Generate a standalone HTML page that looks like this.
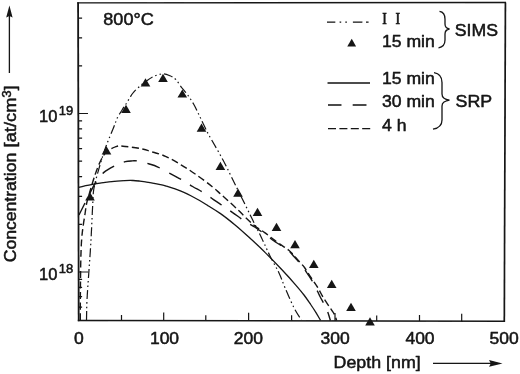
<!DOCTYPE html>
<html lang="en"><head><meta charset="utf-8"><title>Concentration vs Depth, 800°C</title>
<style>html,body{margin:0;padding:0;background:#fff}body{width:520px;height:374px;overflow:hidden}svg{display:block}</style></head>
<body>
<svg width="520" height="374" viewBox="0 0 520 374">
<defs><filter id="soft" x="0" y="0" width="520" height="374" filterUnits="userSpaceOnUse"><feGaussianBlur stdDeviation="0.3"/></filter></defs>
<rect width="520" height="374" fill="#fff"/>
<g filter="url(#soft)">
<g fill="none" stroke="#141414" stroke-linecap="butt">
<path d="M78.1 2.2L78.7 321.2" stroke-width="1.8"/>
<path d="M77.8 320.4L505 321.3" stroke-width="1.5"/>
<path d="M77.3 2.9L506 2.5" stroke-width="1.3"/>
<path d="M505.4 2.5L504.3 321.9" stroke-width="1.7"/>
<path d="M78.5 307.2h3.6M78.5 296.6h3.6M78.5 287.4h3.6M78.5 279.3h3.6M78.5 272.0h9.5M78.5 224.3h3.6M78.5 196.4h3.6M78.5 176.6h3.6M78.5 161.2h3.6M78.5 148.7h3.6M78.5 138.1h3.6M78.5 128.9h3.6M78.5 120.8h3.6M78.5 113.5h9.5M78.5 65.8h3.6M78.5 37.9h3.6M78.5 18.1h3.6" stroke-width="1.2"/>
<path d="M121.5 320.5v-5.5M163.7 320.6v-8.0M205.8 320.7v-5.5M248.6 320.8v-8.0M291.6 320.8v-5.5M335.0 320.9v-8.0M376.7 321.0v-5.5M419.5 321.1v-6.0M461.7 321.2v-7.5" stroke-width="1.2"/>
<path d="M86.5 320.0 C86.6 316.7 86.6 308.3 87.0 300.0 C87.4 291.7 88.3 280.0 89.0 270.0 C89.7 260.0 90.4 250.8 91.0 240.0 C91.6 229.2 92.2 213.7 92.7 205.0 C93.2 196.3 92.8 194.7 94.0 188.0 C95.2 181.3 97.9 172.2 100.0 165.0 C102.1 157.8 104.2 151.2 106.5 145.0 C108.8 138.8 111.8 132.1 113.6 127.5 C115.4 122.9 116.1 120.5 117.5 117.6 C118.9 114.6 120.8 112.1 122.2 109.8 C123.6 107.5 124.7 106.1 126.0 104.0 C127.3 101.9 128.8 99.4 130.0 97.4 C131.2 95.5 131.8 94.2 133.5 92.3 C135.2 90.4 137.9 87.8 140.0 86.0 C142.1 84.2 143.7 82.9 146.0 81.3 C148.3 79.7 151.2 77.5 154.0 76.3 C156.8 75.0 160.3 73.9 163.0 73.8 C165.7 73.7 167.9 74.8 170.0 75.7 C172.1 76.6 173.7 77.4 175.7 79.4 C177.7 81.5 180.0 85.5 182.0 88.0 C184.0 90.5 185.6 92.0 187.5 94.7 C189.4 97.4 191.8 100.9 193.6 104.0 C195.4 107.1 196.7 110.2 198.3 113.5 C199.9 116.8 201.6 120.4 203.3 124.0 C205.1 127.6 205.5 129.0 208.8 135.0 C212.1 141.0 218.6 151.7 223.0 160.0 C227.4 168.3 231.5 177.2 235.4 185.0 C239.3 192.8 243.4 201.2 246.3 207.0 C249.2 212.8 250.2 214.9 252.7 220.0 C255.2 225.1 258.6 231.7 261.5 237.7 C264.4 243.7 267.1 250.1 270.0 256.0 C272.9 261.9 276.5 267.7 279.0 273.0 C281.5 278.3 282.5 281.9 285.0 287.7 C287.5 293.5 291.3 302.4 294.0 307.8 C296.7 313.2 300.2 318.0 301.4 320.0" stroke-width="1.2" stroke-dasharray="9 3 1.5 3 1.5 3"/>
<path d="M78.5 187.3 C81.0 186.8 88.4 185.1 93.5 184.2 C98.6 183.3 103.8 182.5 109.0 181.9 C114.2 181.3 120.5 180.8 124.5 180.6 C128.5 180.4 130.4 180.4 133.0 180.5 C135.6 180.6 137.2 180.8 140.0 181.1 C142.8 181.4 147.0 182.1 150.0 182.6 C153.0 183.1 155.4 183.6 158.0 184.2 C160.6 184.8 161.7 184.7 165.5 185.9 C169.3 187.1 176.1 189.2 181.0 191.2 C185.9 193.2 190.5 195.6 195.0 198.0 C199.5 200.4 203.8 203.1 208.0 205.7 C212.2 208.3 215.8 210.3 220.5 213.6 C225.2 216.9 230.8 221.4 236.0 225.7 C241.2 230.0 246.6 235.1 251.5 239.6 C256.4 244.1 260.6 248.0 265.5 252.9 C270.4 257.8 275.9 263.4 281.0 268.8 C286.1 274.2 292.2 280.9 296.0 285.3 C299.8 289.7 301.5 291.7 304.0 295.0 C306.5 298.3 309.0 302.1 311.0 305.0 C313.0 307.9 314.4 310.0 316.0 312.6 C317.6 315.2 319.8 319.1 320.6 320.4" stroke-width="1.3"/>
<path d="M79.0 215.0 C79.8 213.3 82.2 208.7 84.0 205.0 C85.8 201.3 88.0 196.8 90.0 193.0 C92.0 189.2 93.7 185.4 96.0 182.0 C98.3 178.6 100.4 175.3 103.6 172.6 C106.8 169.9 111.6 167.4 115.2 165.6 C118.8 163.8 122.4 162.4 125.3 161.6 C128.2 160.8 130.4 161.0 132.5 160.9 C134.6 160.8 134.9 160.5 137.7 161.0 C140.5 161.5 145.9 163.0 149.3 164.0 C152.7 165.0 154.3 165.4 158.0 167.1 C161.7 168.8 167.6 172.2 171.7 174.4 C175.8 176.6 179.1 178.3 182.6 180.3 C186.1 182.3 189.1 184.4 192.6 186.5 C196.1 188.6 200.0 190.5 203.5 192.7 C207.0 194.9 210.2 197.3 213.5 199.6 C216.8 201.9 220.2 204.0 223.6 206.3 C227.0 208.6 230.2 210.9 233.7 213.3 C237.2 215.8 241.0 218.7 244.5 221.0 C248.0 223.3 251.2 224.8 254.6 227.0 C258.0 229.2 261.6 231.8 264.7 234.0 C267.8 236.2 270.6 238.6 273.3 240.5 C276.0 242.4 278.4 243.8 281.0 245.5 C283.6 247.2 286.9 249.2 288.8 250.8 C290.7 252.4 291.1 253.3 292.6 255.0 C294.1 256.7 296.2 258.9 298.0 261.0 C299.8 263.1 302.1 265.5 303.5 267.4 C304.9 269.3 305.3 270.4 306.6 272.5 C307.9 274.6 309.9 277.2 311.5 279.8 C313.1 282.4 314.6 285.2 316.0 288.0 C317.4 290.8 318.2 293.0 320.0 296.5 C321.8 300.0 324.8 304.8 326.5 308.8 C328.2 312.8 329.8 318.5 330.4 320.4" stroke-width="1.4" stroke-dasharray="13.5 10.5"/>
<path d="M80.3 320.0 C80.3 315.0 80.3 300.0 80.4 290.0 C80.5 280.0 80.6 268.3 80.8 260.0 C81.0 251.7 81.2 245.5 81.6 240.0 C82.0 234.5 82.4 231.3 83.0 227.0 C83.6 222.7 84.4 217.8 85.0 214.0 C85.6 210.2 85.8 207.5 86.5 204.0 C87.2 200.5 88.1 197.8 89.5 193.0 C90.9 188.2 93.1 180.5 95.0 175.0 C96.9 169.5 99.0 163.9 101.0 160.0 C103.0 156.1 104.5 153.7 107.0 151.5 C109.5 149.3 113.3 147.5 116.0 146.6 C118.7 145.7 119.0 145.9 123.0 146.2 C127.0 146.5 135.5 147.7 140.0 148.5 C144.5 149.3 145.8 149.9 150.0 151.2 C154.2 152.5 160.3 154.0 165.5 156.3 C170.7 158.6 175.8 161.7 181.0 164.8 C186.2 167.9 191.3 171.3 196.5 174.9 C201.7 178.5 208.0 183.3 212.0 186.5 C216.0 189.7 217.7 191.4 220.5 193.9 C223.3 196.4 226.0 198.9 229.0 201.6 C232.0 204.3 235.5 207.5 238.3 210.2 C241.1 212.9 243.3 215.3 246.0 217.9 C248.7 220.5 251.5 223.2 254.6 225.7 C257.7 228.1 261.3 230.1 264.7 232.6 C268.1 235.1 271.8 238.2 274.8 240.4 C277.8 242.6 280.2 244.2 282.5 245.8 C284.8 247.4 287.0 248.7 288.8 250.2 C290.6 251.7 291.8 253.2 293.5 255.0 C295.2 256.8 297.2 259.1 299.0 261.2 C300.8 263.3 303.0 265.5 304.5 267.5 C306.0 269.5 306.6 270.8 308.0 273.0 C309.4 275.2 311.3 278.0 313.0 280.5 C314.7 283.0 316.4 285.4 318.0 288.0 C319.6 290.6 320.7 293.2 322.6 296.4 C324.5 299.6 327.7 304.2 329.6 307.2 C331.6 310.2 333.1 312.0 334.3 314.2 C335.5 316.4 336.2 319.4 336.6 320.4" stroke-width="1.4" stroke-dasharray="7 3.5"/>
<path d="M327 22.2H335.3M339.6 22.2H341.2M345.3 22.2H346.9M352.9 22.2H362.4M366 22.2H368.6" stroke-width="1.3"/>
<path d="M327.5 83H370" stroke-width="1.45"/>
<path d="M328 105H341.5M352.7 105H366.5" stroke-width="1.5"/>
<path d="M328 128.6H370.3" stroke-width="1.35" stroke-dasharray="8 3.4"/>
<path d="M439.5 11.3 C444 12 445 15 445 19 V24 C445 27 446.5 28.5 449.5 29 C446.5 29.5 445 31 445 34 V40 C445 44 443.5 47 438.5 47.8" stroke-width="1.3"/>
<path d="M434 72.6 C440 73.5 442 77 442 82.6 V94 C442 97.5 444.5 99.5 449.5 100.2 C444.5 101 442 102.5 442 106 V120 C442 125 439.5 128 433 129.2" stroke-width="1.3"/>
<path d="M9.4 73V14" stroke-width="1.3"/>
<path d="M433 363.4H492" stroke-width="1.3"/>
</g>
<g fill="#141414" stroke="none">
<path d="M90.0 192.2L94.8 200.4H85.2Z"/>
<path d="M106.5 146.2L111.3 154.4H101.7Z"/>
<path d="M126.0 104.7L130.8 112.9H121.2Z"/>
<path d="M145.5 78.3L150.3 86.5H140.7Z"/>
<path d="M163.0 73.7L167.8 81.9H158.2Z"/>
<path d="M182.3 89.4L187.1 97.6H177.5Z"/>
<path d="M201.5 123.5L206.3 131.7H196.7Z"/>
<path d="M220.4 161.7L225.2 169.9H215.6Z"/>
<path d="M238.0 188.5L242.8 196.7H233.2Z"/>
<path d="M257.5 207.7L262.3 215.9H252.7Z"/>
<path d="M276.5 222.7L281.3 230.9H271.7Z"/>
<path d="M295.0 240.0L299.8 248.2H290.2Z"/>
<path d="M313.8 259.7L318.6 267.9H309.0Z"/>
<path d="M331.7 279.7L336.5 287.9H326.9Z"/>
<path d="M351.0 302.7L355.8 310.9H346.2Z"/>
<path d="M370.0 317.2L374.8 325.4H365.2Z"/>
<path d="M351.7 38.7L356.1 46.4H347.3Z"/>
<path d="M9.4 5.5L12.6 17.5L9.4 16L6.2 17.5Z"/>
<path d="M502.5 363.4L489 360L490.8 363.4L489 366.8Z"/>
</g>
<g fill="#141414" stroke="#141414" stroke-width="0.5" stroke-linejoin="round" font-family="'Liberation Sans', Arial, Helvetica, sans-serif" font-size="17">
<text transform="translate(103.3 25.0) scale(1.0526 1)" font-size="17.20">800°C</text>
<text transform="translate(78.9 344.0) scale(1.0526 1)" font-size="16.62" text-anchor="middle">0</text>
<text transform="translate(164.5 344.0) scale(1.0526 1)" font-size="16.62" text-anchor="middle">100</text>
<text transform="translate(248.3 344.0) scale(1.0526 1)" font-size="16.62" text-anchor="middle">200</text>
<text transform="translate(335.1 344.0) scale(1.0526 1)" font-size="16.62" text-anchor="middle">300</text>
<text transform="translate(420.0 344.0) scale(1.0526 1)" font-size="16.62" text-anchor="middle">400</text>
<text transform="translate(504.1 344.0) scale(1.0526 1)" font-size="16.62" text-anchor="middle">500</text>
<text transform="translate(333.6 367.7) scale(1.0526 1)" font-size="16.91">Depth [nm]</text>
<text transform="translate(382.0 47.1) scale(1.0526 1)" font-size="16.72">15 min</text>
<text transform="translate(382.0 83.9) scale(1.0526 1)" font-size="16.72">15 min</text>
<text transform="translate(382.0 107.1) scale(1.0526 1)" font-size="16.72">30 min</text>
<text transform="translate(382.0 130.8) scale(1.0526 1)" font-size="16.72">4 h</text>
<text transform="translate(454.8 35.6) scale(1.0526 1)" font-size="16.81">SIMS</text>
<text transform="translate(455.6 107.1) scale(1.0526 1)" font-size="16.91">SRP</text>
<text x="39" y="122.2" font-size="16.5">10<tspan font-size="13" dx="1.3" dy="-7">19</tspan></text>
<text x="39" y="280.2" font-size="16.5">10<tspan font-size="13" dx="1.3" dy="-7">18</tspan></text>
<text transform="translate(16.0 262.3) rotate(-90) scale(1.0526 1)" font-size="16.72">Concentration</text>
<text transform="translate(16.0 147.4) rotate(-90) scale(1.0526 1)" font-size="17.39">[at/cm<tspan font-size="12" dy="-5.3">3</tspan><tspan dy="5.3">]</tspan></text>
</g>
<text transform="translate(384.7 23.9) scale(0.78 1)" x="-3 3 13.9" y="0" fill="#141414" stroke="#141414" stroke-width="0.7" font-family="'Liberation Serif', 'Times New Roman', serif" font-size="17.6">I I</text>
</g>
</svg>
</body></html>
